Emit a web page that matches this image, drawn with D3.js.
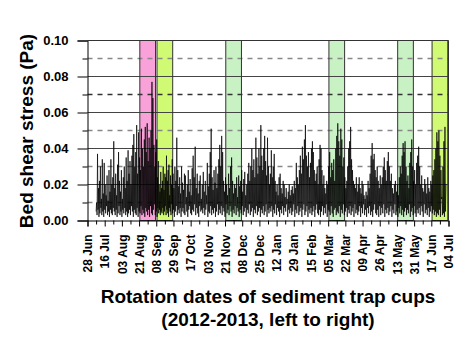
<!DOCTYPE html>
<html>
<head>
<meta charset="utf-8">
<script src="https://cdn.jsdelivr.net/npm/d3@7"></script>
<style>
  html, body { margin: 0; padding: 0; background: #fff; }
  svg { display: block; font-family: "Liberation Sans", Arial, sans-serif; }
</style>
</head>
<body>
<svg id="chart" width="474" height="350"></svg>
<script>
// Sediment trap cup rotation dates (each cup interval gets equal width on the axis)
const rotationDates = [
  "2012-06-28","2012-07-16","2012-08-03","2012-08-21","2012-09-08","2012-09-29",
  "2012-10-17","2012-11-03","2012-11-21","2012-12-08","2012-12-25","2013-01-12",
  "2013-01-29","2013-02-15","2013-03-05","2013-03-22","2013-04-09","2013-04-26",
  "2013-05-13","2013-05-31","2013-06-17","2013-07-04"
];
const rotationLabels = [
  "28 Jun","16 Jul","03 Aug","21 Aug","08 Sep","29 Sep","17 Oct","03 Nov","21 Nov",
  "08 Dec","25 Dec","12 Jan","29 Jan","15 Feb","05 Mar","22 Mar","09 Apr","26 Apr",
  "13 May","31 May","17 Jun","04 Jul"
];

// Highlighted cup intervals
const bandStart = ["2012-08-21","2012-09-08","2012-11-21","2013-03-05","2013-05-13","2013-06-17"];
const bandEnd   = ["2012-09-08","2012-09-29","2012-12-08","2013-03-22","2013-05-31","2013-07-04"];
const bandGroup = ["pink","lime","pale","pale","pale","lime"];

// Y axis ticks (Pa)
const yMajorTicks = [0, 0.02, 0.04, 0.06, 0.08, 0.10];
const yMinorTicks = [0.01, 0.03, 0.05, 0.07, 0.09];

// Bed shear stress record: one trough (00:00) and one peak (12:00) per day, from 7 Jul 2012
const seriesStart = "2012-07-07";
const dailyPeak = [
  .010,.037,.018,.022,.030,.012,.034,.015,.032,.020,
  .014,.025,.011,.028,.016,.034,.020,.024,.044,.018,
  .026,.014,.031,.038,.022,.016,.028,.012,.024,.030,
  .018,.035,.022,.039,.026,.033,.020,.036,.042,.048,
  .030,.038,.053,.026,.049,.035,.028,.051,.040,.030,
  .045,.052,.038,.054,.033,.046,.040,.050,.077,.068,
  .042,.030,.038,.045,.024,.033,.020,.016,.027,.018,
  .022,.030,.017,.026,
  .024,.036,.022,.028,.031,.014,.025,.020,.034,.026,
  .018,.030,.022,.046,.028,.019,.024,.015,.030,.021,
  .017,.026,.025,.013,.020,.028,.016,.023,.014,.029,
  .036,.024,.041,.018,.026,.015,.022,.025,.012,.020,
  .027,.016,.022,.014,.032,.019,.026,.038,.051,.024,
  .017,.028,.021,.030,.018,.026,.034,.042,.030,.047,
  .038,.022,.016,.024,.020,.014,.026,.018,.030,.035,
  .022,.015,.020,.018,.024,.013,.025,.019,.022,.028,
  .016,.023,.027,.014,.020,.026,.032,.022,.030,.040,
  .028,.034,.024,.046,.035,.026,.040,.030,.053,.036,
  .028,.040,.047,.033,.025,.046,.030,.020,.026,
  .039,.024,.030,.037,.022,.016,.020,.014,.024,.026,
  .018,.015,.022,.020,.013,.018,.012,.016,.020,.014,
  .017,.019,.015,.022,.018,.032,.024,.020,.028,.036,
  .026,.041,.034,.045,.053,.036,.030,.038,.024,
  .032,.040,.044,.038,.028,.022,.026,.030,.020,.034,
  .042,.040,.028,.020,.025,.018,.015,.022,.020,.030,
  .038,.024,.032,.028,.034,.022,.040,.047,.054,.044,
  .036,.051,.045,.030,.035,.024,.018,.022,.030,.040,
  .044,.052,.034,.028,.022,.020,.018,.024,.016,.020,
  .024,.018,.015,.022,.020,.014,.012,.016,.014,
  .022,.018,.026,.036,.043,.034,.037,.028,.024,.030,
  .022,.018,.025,.020,.024,.030,.035,.028,.022,
  .033,.038,.030,.022,.026,.018,.015,.020,.022,.016,
  .020,.014,.024,.030,.026,.036,.043,.038,.044,.030,
  .022,.025,.018,.032,.038,.045,.030,.022,.028,.020,
  .032,.036,.041,.030,.020,.025,.018,.016,.023,.020,
  .015,.024,.018,.016,.022,.020,.025,.028,.034,.040,
  .049,.044,.050,.036,.028,.013,.030,.044,.052,.020
];
const dailyTrough = [
  .005,.003,.006,.002,.004,.007,.003,.005,.002,.006,
  .004,.008,.003,.005,.002,.006,.004,.003,.007,.005,
  .003,.006,.002,.004,.008,.003,.005,.002,.006,.004,
  .007,.003,.005,.002,.004,.006,.003,.008,.005,.002,
  .006,.004,.003,.007,.002,.005,.004,.008,.003,.006,
  .004,.002,.007,.005,.003,.006,.002,.008,.004,.003,
  .006,.009,.003,.005,.002,.007,.004,.006,.003,.005,
  .004,.007,.003,.005,
  .008,.003,.006,.004,.002,.007,.005,.003,.009,.004,
  .006,.002,.005,.008,.003,.006,.004,.007,.002,.005,
  .007,.004,.003,.009,.005,.002,.006,.008,.004,.003,
  .006,.005,.009,.003,.007,.004,.002,.008,.005,.006,
  .004,.007,.003,.006,.009,.002,.005,.004,.008,.003,
  .006,.004,.007,.002,.005,.009,.003,.006,.004,.008,
  .003,.007,.005,.002,.009,.004,.006,.003,.008,.005,
  .002,.006,.004,.008,.003,.007,.005,.002,.006,.004,
  .008,.003,.005,.007,.002,.006,.004,.009,.003,.005,
  .007,.002,.006,.004,.008,.003,.005,.007,.002,.006,
  .004,.008,.003,.005,.009,.002,.006,.004,.007,
  .005,.008,.002,.006,.004,.009,.003,.007,.005,.002,
  .006,.004,.008,.003,.007,.005,.009,.002,.006,.004,
  .007,.003,.005,.009,.002,.006,.004,.008,.003,.005,
  .007,.002,.006,.009,.003,.005,.008,.002,.006,
  .004,.007,.003,.005,.008,.002,.006,.009,.004,.003,
  .006,.002,.005,.008,.003,.007,.004,.009,.002,.006,
  .005,.003,.008,.004,.002,.006,.007,.003,.005,.004,
  .008,.002,.006,.004,.009,.003,.005,.007,.002,.006,
  .004,.008,.003,.005,.007,.002,.009,.004,.006,.003,
  .005,.008,.002,.007,.004,.009,.003,.006,.002,
  .007,.004,.008,.003,.005,.002,.006,.009,.004,.003,
  .006,.002,.008,.003,.007,.004,.009,.002,.006,
  .004,.007,.003,.005,.008,.002,.006,.004,.009,.003,
  .005,.002,.007,.004,.008,.003,.006,.002,.005,.007,
  .003,.006,.004,.009,.002,.005,.007,.003,.008,.004,
  .002,.006,.004,.007,.003,.008,.005,.002,.009,.004,
  .006,.003,.007,.002,.005,.008,.004,.006,.003,.005,
  .002,.004,.003,.006,.002,.012,.003,.004,.002,.005
];

const bandFill = { pink: "#f9a1d9", lime: "#d0fa74", pale: "#c8f1c4" };

const svg = d3.select("#chart");
const W = 474, H = 350;
const margin = { left: 87.5, top: 40.5, right: 25.5, bottom: 129.5 };
const width = W - margin.left - margin.right;   // 361
const height = H - margin.top - margin.bottom;  // 180

const parse = d3.utcParse("%Y-%m-%d");
const dates = rotationDates.map(parse);

// Piecewise scale: each cup interval occupies the same width
const x = d3.scaleUtc()
  .domain(dates)
  .range(dates.map((d, i) => i * width / (dates.length - 1)));
const y = d3.scaleLinear().domain([0, 0.10]).range([height, 0]);

const g = svg.append("g").attr("transform", `translate(${margin.left},${margin.top})`);

// Shaded intervals
const bands = bandStart.map((s, i) => ({ s: parse(s), e: parse(bandEnd[i]), k: bandGroup[i] }));
g.append("g").selectAll("rect").data(bands).join("rect")
  .attr("x", d => x(d.s) + 0.75)
  .attr("y", 0)
  .attr("width", d => x(d.e) - x(d.s) - 1.5)
  .attr("height", height)
  .attr("fill", d => bandFill[d.k]);

// Horizontal grid: solid at even hundredths, dashed at odd
g.append("g").selectAll("line").data(yMajorTicks.filter(v => v > 0 && v < 0.1)).join("line")
  .attr("x1", 0).attr("x2", width)
  .attr("y1", d => y(d)).attr("y2", d => y(d))
  .attr("stroke", "#444").attr("stroke-width", 1);
g.append("g").selectAll("line").data(yMinorTicks).join("line")
  .attr("x1", 0).attr("x2", width)
  .attr("y1", d => y(d)).attr("y2", d => y(d))
  .attr("stroke", d => Math.abs(d - 0.07) < 1e-9 ? "#333" : "#888")
  .attr("stroke-width", 1.5)
  .attr("stroke-dasharray", "5,5");

// Band outlines
g.append("g").selectAll("rect").data(bands).join("rect")
  .attr("x", d => x(d.s) + 0.75)
  .attr("y", 0)
  .attr("width", d => x(d.e) - x(d.s) - 1.5)
  .attr("height", height)
  .attr("fill", "none")
  .attr("stroke", "#333").attr("stroke-width", 1);

// Stress trace
const t0 = parse(seriesStart).getTime();
const DAY = 864e5;
const points = [];
dailyPeak.forEach((p, i) => {
  points.push([new Date(t0 + i * DAY), dailyTrough[i]]);
  points.push([new Date(t0 + i * DAY + DAY / 2), p]);
});
g.append("path")
  .datum(points)
  .attr("fill", "none")
  .attr("stroke", "#000")
  .attr("stroke-width", 0.7)
  .attr("stroke-linejoin", "miter")
  .attr("d", d3.line().x(d => x(d[0])).y(d => y(d[1])));

// Plot frame (top and right)
g.append("path")
  .attr("d", `M0,0H${width}V${height}`)
  .attr("fill", "none").attr("stroke", "#333").attr("stroke-width", 1);

// Y axis
const yAxis = g.append("g")
  .call(d3.axisLeft(y).tickValues(yMajorTicks).tickFormat(d3.format(".2f")).tickSize(10).tickPadding(9));
g.append("g")
  .call(d3.axisLeft(y).tickValues(yMinorTicks).tickSize(5).tickFormat(""))
  .call(s => s.select(".domain").remove());
yAxis.selectAll("text")
  .attr("font-family", "Liberation Sans, Arial, sans-serif")
  .attr("font-size", 13).attr("font-weight", "bold").attr("fill", "#000");

// X axis
const xAxis = g.append("g")
  .attr("transform", `translate(0,${height})`)
  .call(d3.axisBottom(x).tickValues(dates).tickFormat((d, i) => rotationLabels[i]).tickSize(6));
const midDates = dates.slice(1).map((d, i) => x.invert((x(dates[i]) + x(d)) / 2));
g.append("g")
  .attr("transform", `translate(0,${height})`)
  .call(d3.axisBottom(x).tickValues(midDates).tickSize(4).tickFormat(""))
  .call(s => s.select(".domain").remove());
xAxis.selectAll("text")
  .attr("font-family", "Liberation Sans, Arial, sans-serif")
  .attr("font-size", 12).attr("font-weight", "bold").attr("fill", "#000")
  .attr("transform", "rotate(-90)")
  .attr("x", -14).attr("y", 0).attr("dy", "0.35em")
  .style("text-anchor", "end");

// Axis titles
svg.append("text")
  .attr("transform", "translate(33,131) rotate(-90)")
  .attr("text-anchor", "middle")
  .attr("font-size", 19).attr("font-weight", "bold")
  .text("Bed shear stress (Pa)");
svg.append("text")
  .attr("x", margin.left + width / 2).attr("y", 303)
  .attr("text-anchor", "middle")
  .attr("font-size", 19).attr("font-weight", "bold")
  .text("Rotation dates of sediment trap cups");
svg.append("text")
  .attr("x", margin.left + width / 2).attr("y", 326)
  .attr("text-anchor", "middle")
  .attr("font-size", 19).attr("font-weight", "bold")
  .text("(2012-2013, left to right)");
</script>
</body>
</html>
